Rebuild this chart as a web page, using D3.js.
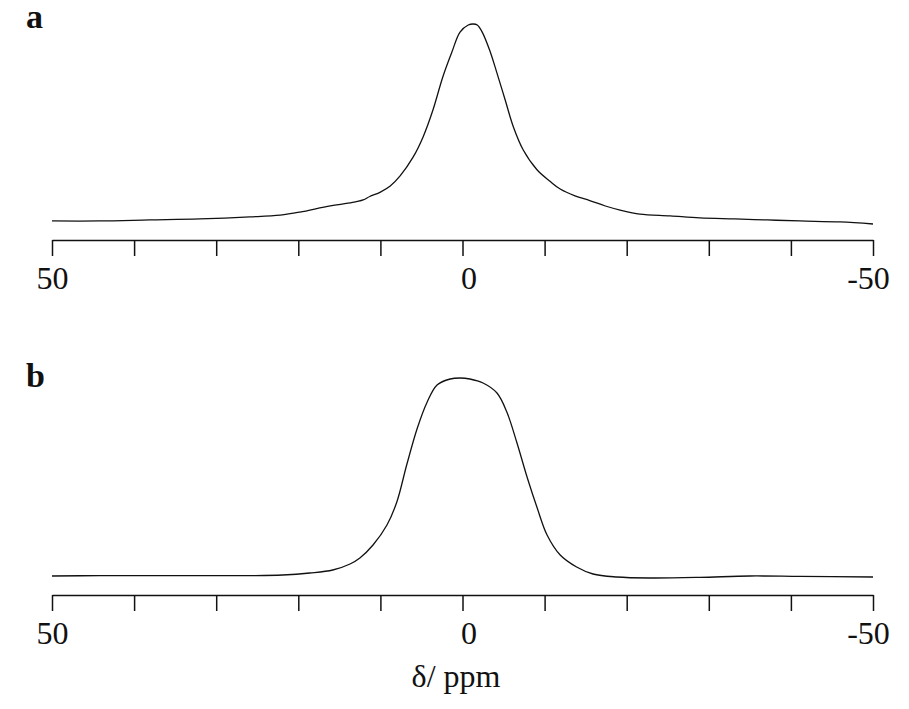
<!DOCTYPE html>
<html>
<head>
<meta charset="utf-8">
<script src="https://cdn.jsdelivr.net/npm/d3@7"></script>
<style>
  body { margin: 0; background: #fff; }
  svg { display: block; }
  .ev-axis path, .ev-axis line { stroke: #111; stroke-width: 1.5; }
  .ev-axis text { font-family: "Liberation Serif", serif; font-size: 32px; fill: #111; }
  .ev-spectrum { fill: none; stroke: #111; stroke-width: 1.3; }
  .ev-panel-label { font-family: "Liberation Serif", serif; font-weight: bold; font-size: 34px; fill: #111; }
  .ev-axis-title { font-family: "Liberation Serif", serif; font-size: 32px; fill: #111; }
</style>
</head>
<body>
<svg id="chart" width="909" height="709"></svg>
<script>
"use strict";

// chemical shift (ppm), panel a
const shiftA = [50, 44.2, 38.1, 32, 25.9, 22.2, 19.8, 16.1, 13.7, 12.1, 11.3, 10, 8.8, 7.6,
                6, 4.8, 3.6, 2.4, 1.3, 0.3, -0.7, -1.3, -1.8, -2.4, -3.3, -4.2, -5.2, -6.2,
                -7.4, -9.1, -10.7, -11.9, -13.7, -15.5, -17.4, -19.2, -21.6, -25.3, -28.9,
                -33.2, -37.1, -41.1, -46, -50];
// relative intensity (% of peak), panel a
const intensityA = [2.5, 2.5, 3.0, 3.5, 4.5, 5.4, 6.9, 10.0, 11.4, 12.9, 14.6, 16.8, 19.8, 24.8,
                    34.2, 44.1, 57.4, 73.8, 86.0, 96, 99.5, 100, 99.5, 96, 87.1, 75.7, 62.4, 49,
                    37.6, 27.7, 22.0, 18.3, 14.9, 12.6, 9.9, 7.9, 5.9, 5.0, 4.0,
                    3.5, 3.0, 2.5, 2.0, 1.0];

// panel b
const shiftB = [50, 44.2, 38.1, 32, 25.9, 21.9, 18.6, 15.8, 13.7, 12.5, 10.9, 9.2, 8, 6.8, 5.5,
                4.3, 3.1, 1.5, 0.3, -0.9, -2.5, -4.2, -5.4, -6.6, -7.9, -9.1, -10.3, -11.9,
                -13.9, -15.9, -18.8, -22.8, -28.9, -35, -41.1, -50];
const intensityB = [1, 1.2, 1.2, 1.2, 1.2, 1.5, 2.5, 4, 7, 10, 16.5, 26.5, 38, 56.5, 75,
                    88, 96.5, 99.5, 100, 99.5, 97.5, 92.5, 83, 68, 50, 35, 21.5, 11.5,
                    5.5, 2, 0.5, 0, 0.3, 1, 0.8, 0.5];

const tickValues = [50, 40, 30, 20, 10, 0, -10, -20, -30, -40, -50];
const labelledTicks = [50, 0, -50];
const panelNames = ["a", "b"];
const axisTitle = "δ/ ppm";

const svg = d3.select("#chart");

const xScale = d3.scaleLinear()
                 .domain([50, -50])
                 .range([52, 873]);

const panels = [
  {name: panelNames[0], shift: shiftA, intensity: intensityA,
   top: 24, baseline: 226, axisY: 240, labelY: 28},
  {name: panelNames[1], shift: shiftB, intensity: intensityB,
   top: 378, baseline: 578, axisY: 595, labelY: 387},
];

panels.forEach(panel => {
  const yScale = d3.scaleLinear()
                   .domain([0, 100])
                   .range([panel.baseline, panel.top]);

  const points = panel.shift.map((s, i) => [s, panel.intensity[i]]);

  svg.append("path")
     .datum(points)
     .attr("class", "ev-spectrum")
     .attr("d", d3.line()
                  .x(p => xScale(p[0]))
                  .y(p => yScale(p[1]))
                  .curve(d3.curveCatmullRom.alpha(0.5)));

  // Axis
  const axis = d3.axisBottom(xScale)
                 .tickValues(tickValues)
                 .tickSize(16)
                 .tickSizeOuter(0)
                 .tickFormat(d => labelledTicks.includes(d) ? ("" + d) : "");

  const g = svg.append("g")
               .attr("class", "ev-axis")
               .attr("transform", `translate(0,${panel.axisY})`)
               .call(axis);

  g.selectAll("text")
   .attr("y", 49)
   .attr("dy", 0)
   .attr("dx", d => d == 0 ? 6 : (d < 0 ? -5 : 0));

  svg.append("text")
     .attr("class", "ev-panel-label")
     .attr("x", 26)
     .attr("y", panel.labelY)
     .text(panel.name);
});

svg.append("text")
   .attr("class", "ev-axis-title")
   .attr("x", 456)
   .attr("y", 687)
   .attr("text-anchor", "middle")
   .text(axisTitle);
</script>
</body>
</html>
